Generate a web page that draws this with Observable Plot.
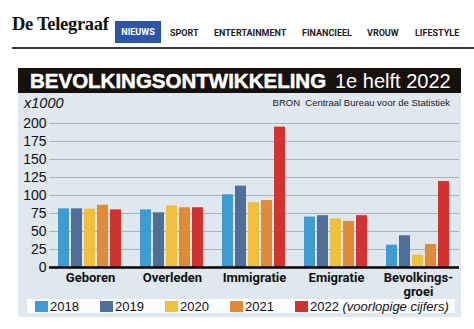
<!DOCTYPE html>
<html>
<head>
<meta charset="utf-8">
<script src="https://cdn.jsdelivr.net/npm/d3@7"></script>
<script src="https://cdn.jsdelivr.net/npm/@observablehq/plot@0.6"></script>
<style>
  html, body { margin: 0; padding: 0; background: #fff; }
  body { width: 474px; height: 329px; position: relative; overflow: hidden; font-family: "Liberation Sans", Arial, sans-serif; }
  .logo { position: absolute; left: 12px; top: 14px; font-family: "Liberation Serif", serif; font-weight: bold; font-size: 18.5px; color: #111; letter-spacing: -0.3px; }
  .nav { position: absolute; top: 27px; font-family: Roboto, "Liberation Sans", sans-serif; font-weight: bold; font-size: 9px; color: #222; line-height: 12px; }
  .navsel { position: absolute; left: 115px; top: 21px; width: 46px; height: 22px; background: #2d55a5; color: #fff; font-family: Roboto, sans-serif; font-weight: bold; font-size: 9px; line-height: 22px; text-align: center; }
  .hr { position: absolute; left: 12px; top: 47px; width: 462px; height: 1.5px; background: #3a3a3a; }
  .panel { position: absolute; left: 18px; top: 68px; width: 443px; height: 249px; background: #dfe7ef; }
  .titlebar { position: absolute; left: 0; top: 0; width: 443px; height: 25px; background: #17110e; color: #fff; white-space: nowrap; }
  .titlebar .t1 { position: absolute; left: 12px; top: 1px; font-family: "Liberation Sans", Arial, sans-serif; font-weight: bold; font-size: 20.5px; line-height: 24px; letter-spacing: 0px; -webkit-text-stroke: 0.5px #fff; }
  .titlebar .t2 { position: absolute; left: 317px; top: 1px; font-family: "Liberation Sans", Arial, sans-serif; font-size: 20px; line-height: 24px; }
  .bron { position: absolute; right: 11px; top: 29px; font-size: 9.5px; color: #222; white-space: nowrap; }
  .unit { position: absolute; left: 6px; top: 27px; font-style: italic; font-size: 14.5px; color: #111; }
  #chart { position: absolute; left: 0; top: 25px; }
  #chart svg { overflow: visible; }
  .legend { position: absolute; left: 9px; top: 231px; width: 428px; height: 14px; background: #fbfcfd; display: flex; align-items: center; font-size: 13px; color: #111; white-space: nowrap; }
  .legend .item { display: inline-flex; align-items: center; width: 65px; }
  .legend .item:first-child { margin-left: 8px; }
  .legend .sw { width: 13px; height: 11px; margin-right: 2px; }
</style>
</head>
<body>
<div class="logo">De Telegraaf</div>
<div class="navsel">NIEUWS</div>
<div class="nav" style="left:170px">SPORT</div>
<div class="nav" style="left:214px">ENTERTAINMENT</div>
<div class="nav" style="left:302px">FINANCIEEL</div>
<div class="nav" style="left:367px">VROUW</div>
<div class="nav" style="left:415px">LIFESTYLE</div>
<div class="hr"></div>

<div class="panel">
  <div class="titlebar"><span class="t1">BEVOLKINGSONTWIKKELING</span><span class="t2">1e helft 2022</span></div>
  <div class="bron">BRON&nbsp; Centraal Bureau voor de Statistiek</div>
  <div id="chart"></div>
  <div class="unit">x1000</div>
  <div class="legend" id="legend"></div>
</div>

<script>
const categories = ["Geboren", "Overleden", "Immigratie", "Emigratie", "Bevolkingsgroei"];
const categoryLabels = ["Geboren", "Overleden", "Immigratie", "Emigratie", "Bevolkings-\ngroei"];
const years = ["2018", "2019", "2020", "2021", "2022"];
const yearLabels = ["2018", "2019", "2020", "2021", "2022"];
const yearNotes = ["", "", "", "", "(voorlopige cijfers)"];
const colors = ["#3d9dd3", "#4f6f98", "#efc03b", "#e18b37", "#d33330"];
const v2018 = [81.5, 80, 101, 70, 31];
const v2019 = [81.5, 76, 113, 72, 44];
const v2020 = [81, 85.5, 90, 67.5, 17];
const v2021 = [86.5, 83, 93, 64, 32];
const v2022 = [80, 83, 195, 72, 119.5];
const yTicks = [0, 25, 50, 75, 100, 125, 150, 175, 200];

const series = [v2018, v2019, v2020, v2021, v2022];
const rows = [];
categories.forEach((c, i) => years.forEach((y, j) => rows.push({cat: c, year: y, value: series[j][i]})));

const chart = Plot.plot({
  width: 443,
  height: 206,
  marginTop: 30,
  marginBottom: 32,
  marginLeft: 31,
  marginRight: 2,
  style: {background: "transparent", fontFamily: "Liberation Sans, Arial, sans-serif", color: "#111", overflow: "visible"},
  fx: {domain: categories, paddingInner: 0, paddingOuter: 0, label: null},
  x: {domain: years, paddingInner: 0.12, paddingOuter: 0.5, axis: null},
  y: {domain: [0, 200], label: null},
  color: {domain: years, range: colors},
  marks: [
    Plot.gridY(yTicks.filter(d => d > 0), {stroke: "#a7b2be", strokeOpacity: 1, strokeWidth: 1}),
    Plot.barY(rows, {fx: "cat", x: "year", y: "value", fill: "year"}),
    Plot.ruleY([0], {stroke: "#000", strokeWidth: 2.5}),
    Plot.axisY(yTicks, {tickSize: 0, tickPadding: 3, fontSize: 14, label: null}),
    Plot.axisFx({anchor: "bottom", tickSize: 0, tickPadding: 5, fontSize: 13, fontWeight: "bold", fontFamily: "Roboto, sans-serif", label: null,
      tickFormat: d => categoryLabels[categories.indexOf(d)], lineHeight: 1.05})
  ]
});
document.getElementById("chart").appendChild(chart);

const legend = document.getElementById("legend");
years.forEach((y, i) => {
  const item = document.createElement("span");
  item.className = "item";
  const sw = document.createElement("span");
  sw.className = "sw";
  sw.style.background = colors[i];
  item.appendChild(sw);
  const t = document.createElement("span");
  t.textContent = yearLabels[i];
  item.appendChild(t);
  if (yearNotes[i]) {
    const n = document.createElement("i");
    n.textContent = "\u00a0" + yearNotes[i];
    item.appendChild(n);
    item.style.width = "auto";
  }
  legend.appendChild(item);
});
</script>
</body>
</html>
